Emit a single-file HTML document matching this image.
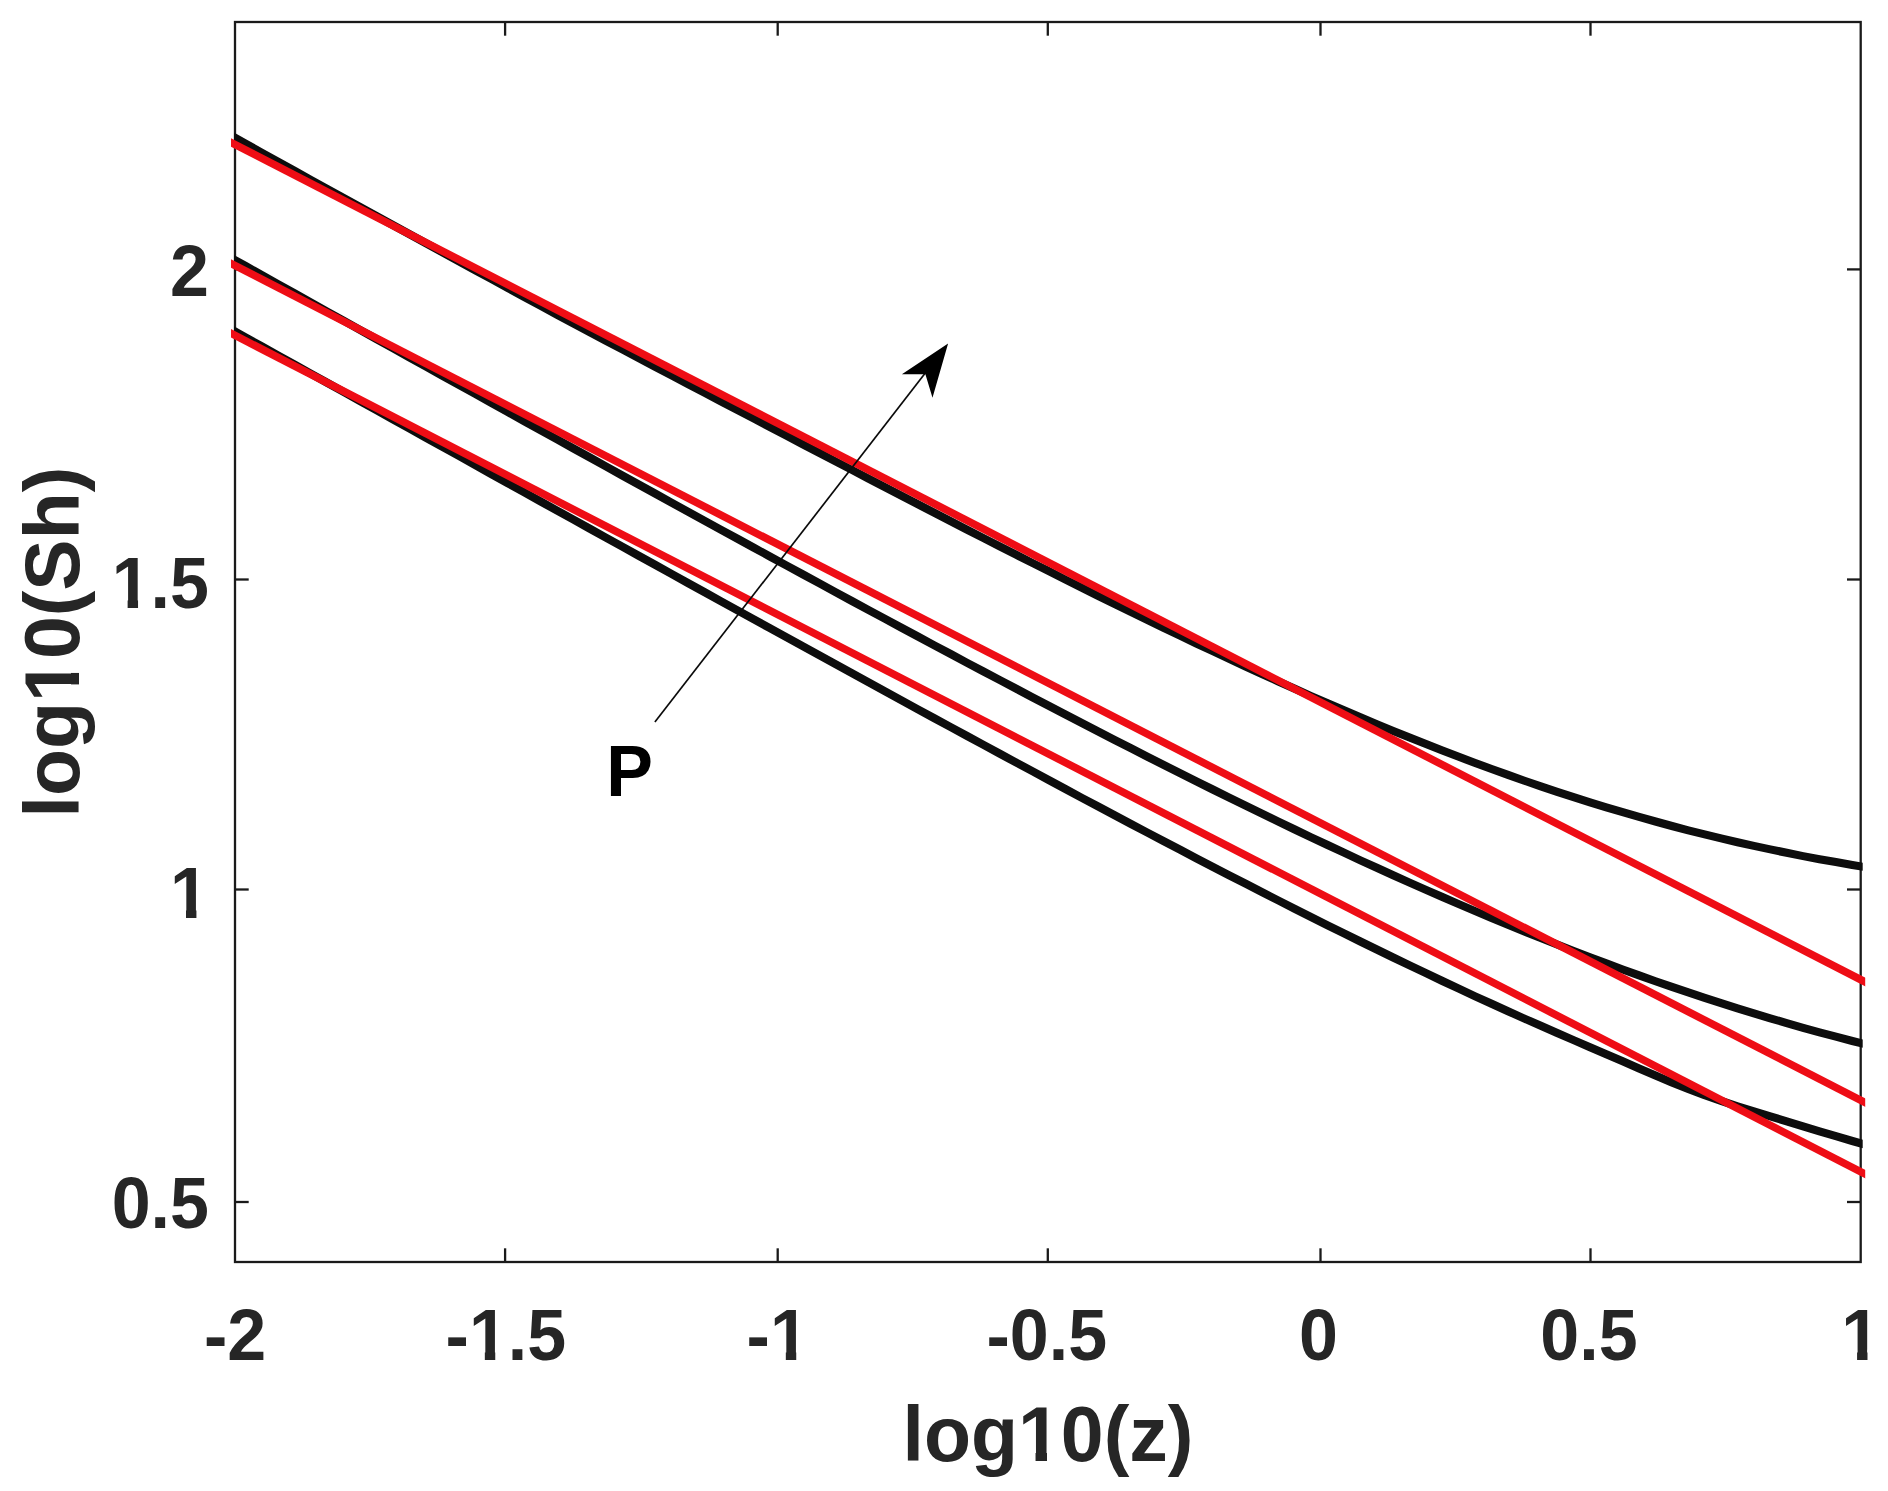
<!DOCTYPE html>
<html lang="en"><head><meta charset="utf-8"><title>log10(Sh) vs log10(z)</title>
<style>
html,body{margin:0;padding:0;background:#fff;}
body{width:1888px;height:1491px;overflow:hidden;}
svg{display:block;font-family:"Liberation Sans",sans-serif;font-weight:bold;}
.tk{font-size:70px;fill:#262626;}
.lb{font-size:77px;fill:#262626;}
</style></head><body>
<svg width="1888" height="1491" viewBox="0 0 1888 1491">
<rect width="1888" height="1491" fill="#fff"/>
<g stroke="#1a1a1a" stroke-width="2.3" fill="none">
<rect x="235.0" y="22.0" width="1625.7" height="1240.0"/>
<line x1="505.1" y1="1262.0" x2="505.1" y2="1248.3"/><line x1="505.1" y1="22.0" x2="505.1" y2="35.7"/>
<line x1="777.7" y1="1262.0" x2="777.7" y2="1248.3"/><line x1="777.7" y1="22.0" x2="777.7" y2="35.7"/>
<line x1="1047.8" y1="1262.0" x2="1047.8" y2="1248.3"/><line x1="1047.8" y1="22.0" x2="1047.8" y2="35.7"/>
<line x1="1320.5" y1="1262.0" x2="1320.5" y2="1248.3"/><line x1="1320.5" y1="22.0" x2="1320.5" y2="35.7"/>
<line x1="1590.5" y1="1262.0" x2="1590.5" y2="1248.3"/><line x1="1590.5" y1="22.0" x2="1590.5" y2="35.7"/>
<line x1="235.0" y1="269.4" x2="248.7" y2="269.4"/><line x1="1860.7" y1="269.4" x2="1847.0" y2="269.4"/>
<line x1="235.0" y1="579.5" x2="248.7" y2="579.5"/><line x1="1860.7" y1="579.5" x2="1847.0" y2="579.5"/>
<line x1="235.0" y1="889.5" x2="248.7" y2="889.5"/><line x1="1860.7" y1="889.5" x2="1847.0" y2="889.5"/>
<line x1="235.0" y1="1202" x2="248.7" y2="1202"/><line x1="1860.7" y1="1202" x2="1847.0" y2="1202"/>
</g>
<defs><clipPath id="cb"><rect x="234.0" y="0" width="1628.7" height="1491"/></clipPath><clipPath id="cr"><rect x="231" y="0" width="1634.2" height="1491"/></clipPath></defs>
<g fill="none" stroke-linecap="butt" stroke-linejoin="round" clip-path="url(#cb)">
<path d="M229.0,134.3 L245.4,143.5 L261.8,152.7 L278.2,161.8 L294.6,170.9 L311.0,180.0 L327.4,189.0 L343.8,198.1 L360.2,207.1 L376.6,216.1 L393.0,225.1 L409.4,234.1 L425.8,243.1 L442.2,252.1 L458.6,261.1 L475.0,270.1 L491.4,279.0 L507.7,288.0 L524.1,296.9 L540.5,305.7 L556.9,314.6 L573.3,323.4 L589.7,332.1 L606.1,340.8 L622.5,349.5 L638.9,358.2 L655.3,366.8 L671.7,375.5 L688.1,384.1 L704.5,392.7 L720.9,401.3 L737.3,409.9 L753.7,418.5 L770.1,427.1 L786.5,435.7 L802.9,444.3 L819.3,452.9 L835.7,461.5 L852.1,470.0 L868.5,478.6 L884.9,487.1 L901.3,495.7 L917.7,504.2 L934.1,512.7 L950.5,521.1 L966.9,529.6 L983.3,538.0 L999.7,546.3 L1016.1,554.7 L1032.5,563.0 L1048.9,571.2 L1065.2,579.5 L1081.6,587.7 L1098.0,595.8 L1114.4,603.9 L1130.8,611.9 L1147.2,619.9 L1163.6,627.8 L1180.0,635.7 L1196.4,643.5 L1212.8,651.2 L1229.2,658.9 L1245.6,666.5 L1262.0,674.0 L1278.4,681.5 L1294.8,688.8 L1311.2,696.1 L1327.6,703.3 L1344.0,710.3 L1360.4,717.3 L1376.8,724.2 L1393.2,730.9 L1409.6,737.6 L1426.0,744.1 L1442.4,750.5 L1458.8,756.8 L1475.2,763.0 L1491.6,769.0 L1508.0,774.9 L1524.4,780.7 L1540.8,786.3 L1557.2,791.8 L1573.6,797.1 L1590.0,802.3 L1606.3,807.3 L1622.7,812.2 L1639.1,816.9 L1655.5,821.5 L1671.9,826.0 L1688.3,830.3 L1704.7,834.4 L1721.1,838.4 L1737.5,842.2 L1753.9,845.9 L1770.3,849.4 L1786.7,852.8 L1803.1,856.1 L1819.5,859.2 L1835.9,862.1 L1852.3,865.0 L1868.7,867.7" stroke="#0d0d0d" stroke-width="8.1"/>
<path d="M229.0,256.8 L245.4,265.9 L261.8,275.1 L278.2,284.2 L294.6,293.4 L311.0,302.5 L327.4,311.7 L343.8,320.8 L360.2,330.0 L376.6,339.1 L393.0,348.2 L409.4,357.4 L425.8,366.5 L442.2,375.6 L458.6,384.7 L475.0,393.8 L491.4,402.9 L507.7,412.0 L524.1,421.1 L540.5,430.2 L556.9,439.3 L573.3,448.4 L589.7,457.4 L606.1,466.5 L622.5,475.6 L638.9,484.6 L655.3,493.6 L671.7,502.7 L688.1,511.7 L704.5,520.7 L720.9,529.7 L737.3,538.6 L753.7,547.6 L770.1,556.6 L786.5,565.5 L802.9,574.4 L819.3,583.3 L835.7,592.2 L852.1,601.1 L868.5,610.0 L884.9,618.8 L901.3,627.6 L917.7,636.4 L934.1,645.2 L950.5,653.9 L966.9,662.7 L983.3,671.4 L999.7,680.0 L1016.1,688.7 L1032.5,697.3 L1048.9,705.9 L1065.2,714.4 L1081.6,722.9 L1098.0,731.4 L1114.4,739.8 L1130.8,748.2 L1147.2,756.6 L1163.6,764.9 L1180.0,773.1 L1196.4,781.4 L1212.8,789.5 L1229.2,797.6 L1245.6,805.7 L1262.0,813.7 L1278.4,821.6 L1294.8,829.5 L1311.2,837.3 L1327.6,845.0 L1344.0,852.7 L1360.4,860.3 L1376.8,867.8 L1393.2,875.2 L1409.6,882.6 L1426.0,889.9 L1442.4,897.0 L1458.8,904.1 L1475.2,911.1 L1491.6,918.0 L1508.0,924.8 L1524.4,931.5 L1540.8,938.1 L1557.2,944.6 L1573.6,951.0 L1590.0,957.3 L1606.3,963.4 L1622.7,969.5 L1639.1,975.4 L1655.5,981.2 L1671.9,986.9 L1688.3,992.4 L1704.7,997.9 L1721.1,1003.2 L1737.5,1008.4 L1753.9,1013.4 L1770.3,1018.3 L1786.7,1023.1 L1803.1,1027.8 L1819.5,1032.3 L1835.9,1036.7 L1852.3,1041.0 L1868.7,1045.1" stroke="#0d0d0d" stroke-width="8.1"/>
<path d="M229.0,328.1 L245.4,337.2 L261.8,346.4 L278.2,355.5 L294.6,364.6 L311.0,373.8 L327.4,382.9 L343.8,392.0 L360.2,401.1 L376.6,410.3 L393.0,419.4 L409.4,428.5 L425.8,437.6 L442.2,446.7 L458.6,455.8 L475.0,464.9 L491.4,474.1 L507.7,483.2 L524.1,492.3 L540.5,501.4 L556.9,510.5 L573.3,519.5 L589.7,528.6 L606.1,537.7 L622.5,546.8 L638.9,555.9 L655.3,564.9 L671.7,574.0 L688.1,583.1 L704.5,592.1 L720.9,601.2 L737.3,610.2 L753.7,619.3 L770.1,628.3 L786.5,637.3 L802.9,646.3 L819.3,655.3 L835.7,664.3 L852.1,673.3 L868.5,682.3 L884.9,691.3 L901.3,700.2 L917.7,709.2 L934.1,718.1 L950.5,727.0 L966.9,735.9 L983.3,744.8 L999.7,753.6 L1016.1,762.5 L1032.5,771.3 L1048.9,780.1 L1065.2,788.9 L1081.6,797.7 L1098.0,806.4 L1114.4,815.1 L1130.8,823.8 L1147.2,832.5 L1163.6,841.1 L1180.0,849.7 L1196.4,858.3 L1212.8,866.8 L1229.2,875.3 L1245.6,883.7 L1262.0,892.1 L1278.4,900.5 L1294.8,908.8 L1311.2,917.1 L1327.6,925.3 L1344.0,933.4 L1360.4,941.5 L1376.8,949.5 L1393.2,957.5 L1409.6,965.4 L1426.0,973.2 L1442.4,981.0 L1458.8,988.7 L1475.2,996.3 L1491.6,1003.8 L1508.0,1011.2 L1524.4,1018.6 L1540.8,1025.8 L1557.2,1033.0 L1573.6,1040.1 L1590.0,1047.2 L1606.3,1054.2 L1622.7,1061.3 L1639.1,1068.5 L1655.5,1075.5 L1671.9,1082.4 L1688.3,1089.0 L1704.7,1095.2 L1721.1,1100.9 L1737.5,1106.3 L1753.9,1111.4 L1770.3,1116.4 L1786.7,1121.3 L1803.1,1126.3 L1819.5,1131.3 L1835.9,1136.2 L1852.3,1141.0 L1868.7,1145.6" stroke="#0d0d0d" stroke-width="8.1"/>
</g>
<g fill="none" stroke-linecap="butt" clip-path="url(#cr)">
<line x1="225.0" y1="139.4" x2="1870.7" y2="984.8" stroke="#ee0d15" stroke-width="7.6"/>
<line x1="225.0" y1="260.4" x2="1870.7" y2="1105.4" stroke="#ee0d15" stroke-width="7.6"/>
<line x1="225.0" y1="330.2" x2="1870.7" y2="1176.9" stroke="#ee0d15" stroke-width="7.6"/>
</g>
<g>
<g transform="translate(235,1360) scale(1,1.035)"><text class="tk" text-anchor="middle">-2</text></g>
<g transform="translate(505.9,1360) scale(1,1.035)"><text class="tk" text-anchor="middle">-1.5</text><rect x="-34.61" y="-9.91" width="13.54" height="11.62" fill="#fff"/><rect x="-10.65" y="-9.91" width="12.10" height="11.62" fill="#fff"/></g>
<g transform="translate(777.7,1360) scale(1,1.035)"><text class="tk" text-anchor="middle">-1</text><rect x="-5.42" y="-9.91" width="13.54" height="11.62" fill="#fff"/><rect x="18.54" y="-9.91" width="12.10" height="11.62" fill="#fff"/></g>
<g transform="translate(1046.8,1360) scale(1,1.035)"><text class="tk" text-anchor="middle">-0.5</text></g>
<g transform="translate(1318.5,1360) scale(1,1.035)"><text class="tk" text-anchor="middle">0</text></g>
<g transform="translate(1589,1360) scale(1,1.035)"><text class="tk" text-anchor="middle">0.5</text></g>
<g transform="translate(1860.6,1360) scale(1,1.035)"><text class="tk" text-anchor="middle">1</text><rect x="-17.07" y="-9.91" width="13.54" height="11.62" fill="#fff"/><rect x="6.89" y="-9.91" width="12.10" height="11.62" fill="#fff"/></g>
<g transform="translate(209,296) scale(1,1.035)"><text class="tk" text-anchor="end">2</text></g>
<g transform="translate(209,608) scale(1,1.035)"><text class="tk" text-anchor="end">1.5</text><rect x="-94.92" y="-9.91" width="13.54" height="11.62" fill="#fff"/><rect x="-70.96" y="-9.91" width="12.10" height="11.62" fill="#fff"/></g>
<g transform="translate(209,918) scale(1,1.035)"><text class="tk" text-anchor="end">1</text><rect x="-36.54" y="-9.91" width="13.54" height="11.62" fill="#fff"/><rect x="-12.58" y="-9.91" width="12.10" height="11.62" fill="#fff"/></g>
<g transform="translate(209,1228) scale(1,1.035)"><text class="tk" text-anchor="end">0.5</text></g>
<g transform="translate(1048,1460.5)"><text class="lb" text-anchor="middle">log10(z)</text><rect x="-27.35" y="-10.90" width="14.89" height="12.78" fill="#fff"/><rect x="-1.00" y="-10.90" width="13.31" height="12.78" fill="#fff"/></g>
<g transform="translate(78.7,642) rotate(-90)"><text class="lb" text-anchor="middle">log10(Sh)</text><rect x="-57.30" y="-10.90" width="14.89" height="12.78" fill="#fff"/><rect x="-30.94" y="-10.90" width="13.31" height="12.78" fill="#fff"/></g>
</g>
<line x1="654.9" y1="722" x2="928" y2="369.6" stroke="#0a0a0a" stroke-width="1.7"/>
<polygon points="948.1,343.6 901.9,374.2 925.4,374.2 932.5,397.8" fill="#000"/>
<g transform="translate(606.3,795.7) scale(1,1.035)"><text font-size="70" fill="#000">P</text></g>
</svg></body></html>
